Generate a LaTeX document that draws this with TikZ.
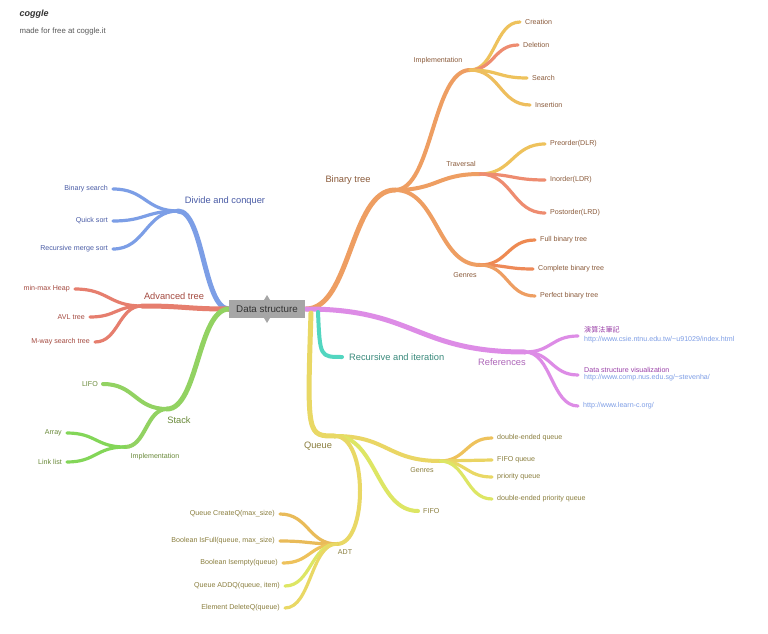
\documentclass[tikz,border=0pt]{standalone}
\usepackage{fontspec}
\setmainfont{Liberation Sans}
\newfontfamily\cjk{Noto Sans CJK TC}
\usetikzlibrary{calc}
\newcommand\hl[3]{\draw[#1] let \p1=(#2),\p2=(#3) in (\p1) .. controls ({(\x1+\x2)/2},\y1) and ({(\x1+\x2)/2},\y2) .. (\p2);}
\begin{document}
\begin{tikzpicture}[x=1pt,y=-1pt,
  br/.style={line cap=round,line width=#1},
  l1/.style={br=5pt}, l2/.style={br=4pt}, l3/.style={br=3.2pt},
  big/.style={font=\fontsize{9.3}{10}\selectfont,inner sep=1pt},
  sm/.style={font=\fontsize{7.1}{8}\selectfont,inner sep=1pt},
  lf/.style={sm,anchor=west,xshift=4pt},
  rt/.style={sm,anchor=east,xshift=-4pt}]
\useasboundingbox (0,0) rectangle (768,634);
\fill[white] (0,0) rectangle (768,634);
% colours
\definecolor{bt}{HTML}{EE9E62}\definecolor{bttx}{HTML}{8A5A3A}
\definecolor{yo}{HTML}{EEC25C}\definecolor{sal}{HTML}{EE8C70}\definecolor{org}{HTML}{EE8A52}
\definecolor{pu}{HTML}{DD8CE6}\definecolor{putx}{HTML}{9A40A8}\definecolor{url}{HTML}{7E9EE6}
\definecolor{te}{HTML}{52D6C0}\definecolor{tetx}{HTML}{3A8A7C}
\definecolor{qy}{HTML}{E9D865}\definecolor{qtx}{HTML}{8A7E3E}\definecolor{lime}{HTML}{DDE664}
\definecolor{bl}{HTML}{7C9EE6}\definecolor{bltx}{HTML}{4A5CA6}
\definecolor{rd}{HTML}{E67E6E}\definecolor{rdtx}{HTML}{A44A40}
\definecolor{gr}{HTML}{92D262}\definecolor{grtx}{HTML}{6A8A3A}
% logo
\node[anchor=west,font=\itshape\bfseries\fontsize{9}{9}\selectfont,text=black!80] (logo) at (16,14) {coggle};
\node[anchor=west,font=\fontsize{7.8}{8}\selectfont,text=black!65] (made) at (16,31) {made for free at coggle.it};
% coordinates
\coordinate (R) at (306,309); \coordinate (L) at (229,309);
\coordinate (bt) at (395,190); \coordinate (im) at (470,70); \coordinate (tr) at (480,174); \coordinate (ge) at (480,265);
\coordinate (c1) at (520,22); \coordinate (c2) at (518,45); \coordinate (c3) at (527,78); \coordinate (c4) at (530,105);
\coordinate (t1) at (545,144); \coordinate (t2) at (545,180); \coordinate (t3) at (545,213);
\coordinate (g1) at (535,240); \coordinate (g2) at (533,269); \coordinate (g3) at (535,296);
\coordinate (rf) at (525,352); \coordinate (r1) at (578,336); \coordinate (r2) at (578,375); \coordinate (r3) at (578,406);
\coordinate (ri0) at (318,312); \coordinate (ri) at (342,357);
\coordinate (q0) at (311,313); \coordinate (q) at (335,436);
\coordinate (qg) at (440,461); \coordinate (qf) at (418,511); \coordinate (ad) at (337,544);
\coordinate (qg1) at (492,438); \coordinate (qg2) at (492,460); \coordinate (qg3) at (492,477); \coordinate (qg4) at (492,499);
\coordinate (a1) at (280,514); \coordinate (a2) at (280,541); \coordinate (a3) at (283,563); \coordinate (a4) at (285,586); \coordinate (a5) at (285,608);
\coordinate (dc) at (178,211); \coordinate (d1) at (113,189); \coordinate (d2) at (113,221); \coordinate (d3) at (113,249);
\coordinate (at) at (142,306); \coordinate (at1) at (75,289); \coordinate (at2) at (90,317); \coordinate (at3) at (95,342);
\coordinate (st) at (167,409); \coordinate (s1) at (103,384); \coordinate (si) at (125,447); \coordinate (si1) at (67,433); \coordinate (si2) at (67,462);
% binary tree
\hl{l1,bt}{R}{bt}
\hl{l2,bt}{bt}{im}\hl{l2,bt}{bt}{tr}\hl{l2,bt}{bt}{ge}
\hl{l3,yo}{im}{c1}\hl{l3,sal}{im}{c2}\hl{l3,yo}{im}{c3}\hl{l3,yo!90!bt}{im}{c4}
\hl{l3,yo}{tr}{t1}\hl{l3,sal}{tr}{t2}\hl{l3,sal}{tr}{t3}
\hl{l3,org}{ge}{g1}\hl{l3,org!80!sal}{ge}{g2}\hl{l3,bt}{ge}{g3}
% references
\hl{l1,pu}{R}{rf}
\hl{l3,pu}{rf}{r1}\hl{l3,pu}{rf}{r2}\hl{l3,pu}{rf}{r3}
% recursive
\draw[l2,te] (ri0) .. controls (320,357) .. (ri);
% queue
\draw[l1,qy] (q0) .. controls (307,436) .. (q);
\hl{l2,qy!90!yo}{q}{qg}\hl{l2,lime}{q}{qf}
\draw[l2,qy] (q) .. controls (368,436) and (368,544) .. (ad);
\hl{l3,yo}{qg}{qg1}\hl{l3,qy!80!yo}{qg}{qg2}\hl{l3,qy}{qg}{qg3}\hl{l3,lime}{qg}{qg4}
\hl{l3,yo!90!brown}{ad}{a1}\hl{l3,yo!90!brown}{ad}{a2}\hl{l3,yo}{ad}{a3}\hl{l3,lime}{ad}{a4}\hl{l3,qy}{ad}{a5}
% left
\hl{l1,bl}{L}{dc}
\hl{l3,bl}{dc}{d1}\hl{l3,bl}{dc}{d2}\hl{l3,bl}{dc}{d3}
\hl{l1,rd}{L}{at}
\hl{l3,rd}{at}{at1}\hl{l3,rd}{at}{at2}\hl{l3,rd}{at}{at3}
\hl{l1,gr}{L}{st}
\hl{l2,gr}{st}{s1}\hl{l2,gr}{st}{si}
\hl{l3,gr!90!green}{si}{si1}\hl{l3,gr!90!green}{si}{si2}
% centre
\node[fill=black!35,minimum width=76pt,minimum height=18pt,font=\fontsize{9.8}{10}\selectfont,text=black!80] (ds) at (267,309) {Data structure};
\fill[black!35] (264,300) -- (267,295) -- (270,300) -- cycle (264,318) -- (267,323) -- (270,318) -- cycle;
% labels
\node[big,text=bttx] (lbt) at (348,180) {Binary tree};
\node[sm,text=bttx] (lim) at (438,61) {Implementation};
\node[sm,text=bttx] (ltr) at (461,164) {Traversal};
\node[sm,text=bttx] (lge) at (465,275) {Genres};
\node[lf,text=bttx] at (c1) {Creation};\node[lf,text=bttx] at (c2) {Deletion};
\node[lf,text=bttx] at (c3) {Search};\node[lf,text=bttx] at (c4) {Insertion};
\node[lf,text=bttx] at (t1) {Preorder(DLR)};\node[lf,text=bttx] at (t2) {Inorder(LDR)};\node[lf,text=bttx] at (t3) {Postorder(LRD)};
\node[lf,text=bttx] at (g1) {Full binary tree};\node[lf,text=bttx] at (g2) {Complete binary tree};\node[lf,text=bttx] at (g3) {Perfect binary tree};
\node[big,text=putx!80] (lrf) at (502,362) {References};
\node[sm,anchor=west,inner sep=0pt,text=putx] (r1a) at (584,330) {\cjk 演算法筆記};
\node[sm,anchor=west,inner sep=0pt,text=url] (r1b) at (584,339.5) {http://www.csie.ntnu.edu.tw/\textasciitilde u91029/index.html};
\node[sm,anchor=west,inner sep=0pt,text=putx] (r2a) at (584,369.5) {Data structure visualization};
\node[sm,anchor=west,inner sep=0pt,text=url] (r2b) at (584,378) {http://www.comp.nus.edu.sg/\textasciitilde stevenha/};
\node[lf,text=url] (r3a) at (r3) {http://www.learn-c.org/};
\node[big,text=tetx,anchor=west] (lri) at (348,357) {Recursive and iteration};
\node[big,text=qtx] (lq) at (318,446) {Queue};
\node[sm,text=qtx] (lqg) at (422,470) {Genres};
\node[lf,text=qtx] at (qf) {FIFO};
\node[sm,text=qtx] (lad) at (345,552) {ADT};
\node[lf,text=qtx] at (qg1) {double-ended queue};\node[lf,text=qtx] at (qg2) {FIFO queue};
\node[lf,text=qtx] at (qg3) {priority queue};\node[lf,text=qtx] at (qg4) {double-ended priority queue};
\node[rt,text=qtx] at (a1) {Queue CreateQ(max\_size)};\node[rt,text=qtx] at (a2) {Boolean IsFull(queue, max\_size)};
\node[rt,text=qtx] at (a3) {Boolean Isempty(queue)};\node[rt,text=qtx] at (a4) {Queue ADDQ(queue, item)};
\node[rt,text=qtx] at (a5) {Element DeleteQ(queue)};
\node[big,text=bltx] (ldc) at (225,201) {Divide and conquer};
\node[rt,text=bltx] at (d1) {Binary search};\node[rt,text=bltx] at (d2) {Quick sort};\node[rt,text=bltx] at (d3) {Recursive merge sort};
\node[big,text=rdtx] (lat) at (174,296) {Advanced tree};
\node[rt,text=rdtx] at (at1) {min-max Heap};\node[rt,text=rdtx] at (at2) {AVL tree};\node[rt,text=rdtx] at (at3) {M-way search tree};
\node[big,text=grtx] (lst) at (179,420) {Stack};
\node[rt,text=grtx] at (s1) {LIFO};
\node[sm,text=grtx] (lsi) at (155,457) {Implementation};
\node[rt,text=grtx] at (si1) {Array};\node[rt,text=grtx] at (si2) {Link list};
\end{tikzpicture}
\end{document}
